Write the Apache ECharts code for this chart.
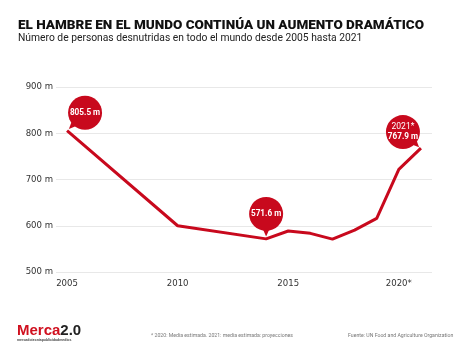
<!DOCTYPE html>
<html><head><meta charset="utf-8">
<script src="https://cdn.jsdelivr.net/npm/echarts@6/dist/echarts.min.js"></script>
<style>html,body{margin:0;padding:0;background:#fff}#c{width:474px;height:355px}</style>
</head><body><div id="c"></div>
<script>
const years = ['2005','2006','2007','2008','2009','2010','2011','2012','2013','2014','2015','2016','2017','2018','2019','2020','2021'];
const hunger = [805.5, null, null, null, null, 600.0, null, null, null, 571.6, 588.6, 583.6, 571.0, 590.7, 616.0, 721.8, 767.9];
const yTicks = [500, 600, 700, 800, 900];
const xTickLabels = {'2005':'2005','2010':'2010','2015':'2015','2020':'2020*'};
const callouts = [
  {year:'2005', value:805.5, top:'', main:'805.5 m'},
  {year:'2014', value:571.6, top:'', main:'571.6 m'},
  {year:'2021', value:767.9, top:'2021*', main:'767.9 m'}
];

const RED = '#c8091d';
const NARROW = '"Liberation Sans Narrow","DejaVu Sans Condensed","Roboto Condensed",Roboto,sans-serif';
// bubble placement (style only): circle offset, tail offset, tail rotation
const bubbleStyle = {
  '2005': {c:[18,-18], t:[5,-5], r:135},
  '2014': {c:[0,-25], t:[0,-7], r:180},
  '2021': {c:[-18,-16], t:[-5,-4], r:-135}
};
const mpData = [];
callouts.forEach(function(cb){
  const s = bubbleStyle[cb.year];
  mpData.push({coord:[cb.year, cb.value], symbol:'triangle', symbolSize:[8,9], symbolRotate:s.r, symbolOffset:s.t, label:{show:false}});
  mpData.push({coord:[cb.year, cb.value], symbol:'circle', symbolSize:34, symbolOffset:s.c,
    label:{show:true, position:'inside',
      formatter: cb.top ? ('{t|' + cb.top + '}\n{m|' + cb.main + '}') : ('{m|' + cb.main + '}'),
      rich:{
        t:{color:'#fff', fontSize:8.5, fontFamily:'Roboto', lineHeight:10},
        m:{color:'#fff', fontSize:8.2, fontWeight:'bold', fontFamily:'Roboto', lineHeight:10}
      }}});
});

const chart = echarts.init(document.getElementById('c'), null, {renderer:'canvas'});
chart.setOption({
  animation:false,
  backgroundColor:'#fff',
  title:[
    {text:'EL HAMBRE EN EL MUNDO CONTINÚA UN AUMENTO DRAMÁTICO', left:13, top:13.5,
     textStyle:{fontSize:13.5, fontWeight:900, fontFamily:'Roboto', color:'#111'}},
    {text:'Número de personas desnutridas en todo el mundo desde 2005 hasta 2021', left:13, top:28,
     textStyle:{fontSize:10.3, fontWeight:'normal', fontFamily:'Roboto', color:'#222'}},
    {text:'{r|Merca}{k|2.0}\n{s|mercadotecniapublicidadmedios}', left:12, top:319,
     textStyle:{rich:{
       r:{fontSize:15, fontWeight:'bold', fontFamily:'Liberation Sans', color:'#d0101f', lineHeight:14},
       k:{fontSize:15, fontWeight:'bold', fontFamily:'Liberation Sans', color:'#222', lineHeight:14},
       s:{fontSize:3.5, fontFamily:'Liberation Sans', color:'#444', lineHeight:4}
     }}},
    {text:'* 2020: Media estimada. 2021: media estimada: proyecciones', left:146, top:328,
     textStyle:{fontSize:5.2, fontWeight:'normal', fontFamily:'Roboto', color:'#777'}},
    {text:'Fuente: UN Food and Agriculture Organization', left:343, top:328,
     textStyle:{fontSize:5.2, fontWeight:'normal', fontFamily:'Roboto', color:'#777'}}
  ],
  grid:{left:56, right:42, top:87, bottom:83, containLabel:false},
  xAxis:{
    type:'category', data:years, boundaryGap:true,
    axisLine:{show:false}, axisTick:{show:false},
    axisLabel:{
      interval:function(i, v){ return xTickLabels[v] !== undefined; },
      formatter:function(v){ return xTickLabels[v] || ''; },
      color:'#333', fontSize:9.5, fontFamily:NARROW, margin:7
    }
  },
  yAxis:{
    type:'value', min:yTicks[0], max:yTicks[yTicks.length-1], interval:100,
    axisLine:{show:false}, axisTick:{show:false},
    axisLabel:{formatter:'{value} m', color:'#333', fontSize:9.5, fontFamily:NARROW, margin:3},
    splitLine:{lineStyle:{color:'#e8e8e8', width:1.2}}
  },
  series:[{
    type:'line', data:hunger, connectNulls:true, showSymbol:false, symbol:'none',
    lineStyle:{color:RED, width:3}, itemStyle:{color:RED},
    markPoint:{data:mpData, itemStyle:{color:RED}, silent:true}
  }]
});
</script></body></html>
